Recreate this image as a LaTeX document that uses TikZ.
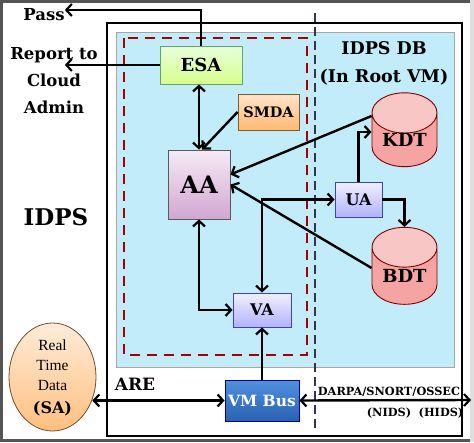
\documentclass[tikz,border=0pt]{standalone}
\usepackage{fontspec}
\setmainfont{DejaVu Serif}
\newfontfamily\libserif{Liberation Serif}
\usetikzlibrary{arrows.meta,shapes.geometric}
\definecolor{skyfill}{HTML}{C2ECF9}
\definecolor{framegray}{HTML}{555555}
\definecolor{bustop}{HTML}{5090DC}
\definecolor{busbot}{HTML}{2A62B2}
\definecolor{cylbody}{HTML}{F5A3A3}
\definecolor{cylend}{HTML}{F9C6C6}
\tikzset{
  tipA/.tip={Straight Barb[length=5.5pt,width=12pt,line width=2.2pt]},
  arr/.style={line width=2.4pt,-tipA},
  darr/.style={line width=2.4pt,tipA-tipA},
  boxbase/.style={draw,rectangle,inner sep=0pt,line width=0.9pt,font=\bfseries},
  esabox/.style={boxbase,draw=green!40!black!60,top color=green!10!white!95!yellow,bottom color=green!35!yellow!45!white},
  smdabox/.style={boxbase,draw=brown!70!black,top color=orange!20!white,bottom color=orange!55!white},
  aabox/.style={boxbase,draw=gray!70!black,top color=violet!8!white,bottom color=violet!35!white},
  uabox/.style={boxbase,draw=blue!50!gray,top color=blue!6!white,bottom color=blue!30!white},
  busbox/.style={boxbase,draw=blue!60!black,top color=bustop,bottom color=busbot,text=white},
  dbcyl/.style={cylinder,shape border rotate=90,aspect=0.9,draw=red!50!black,line width=0.9pt,inner sep=0pt,
     cylinder uses custom fill,cylinder body fill=cylbody,cylinder end fill=cylend,font=\bfseries\fontsize{18}{20}\selectfont},
  lbl/.style={inner sep=0pt,font=\bfseries},
}
\begin{document}
\begin{tikzpicture}[x=1pt,y=-1pt]
\useasboundingbox (0,0) rectangle (474,442);
% outer frame
\fill[gray!25] (470,0) rectangle (474,442);
\draw[framegray,line width=2.5pt] (470,1.5) -- (1.5,1.5) -- (1.5,440.5) -- (470,440.5);
% ARE box
\draw[black,line width=1.2pt] (107,23) rectangle (462,436);
% light blue region
\draw[gray!70,fill=skyfill,line width=0.6pt] (116,32) rectangle (454,367);
% red dashed
\draw[red!65!black,line width=1.5pt,dash pattern=on 10pt off 7pt] (124,38) rectangle (307,355);
% vertical dashed divider
\draw[black!75!blue!60!gray,line width=1.4pt,dash pattern=on 9pt off 5pt] (315,13) -- (315,428);

% nodes
\node[esabox,minimum width=82pt,minimum height=38pt,font=\bfseries\fontsize{18}{20}\selectfont] (ESA) at (201,65) {ESA};
\node[smdabox,minimum width=61pt,minimum height=36pt,font=\bfseries\fontsize{14.5}{16}\selectfont] (SMDA) at (268.5,112) {SMDA};
\node[aabox,minimum width=62pt,minimum height=69pt,font=\bfseries\fontsize{24}{26}\selectfont] (AA) at (199,184.5) {AA};
\node[uabox,minimum width=47pt,minimum height=35pt,font=\bfseries\fontsize{16}{18}\selectfont] (UA) at (358.5,199.5) {UA};
\node[uabox,minimum width=58pt,minimum height=34pt,font=\bfseries\fontsize{16}{18}\selectfont] (VA) at (262,310) {VA};
\node[busbox,minimum width=74pt,minimum height=41pt,font=\bfseries\fontsize{15.5}{18}\selectfont] (VMBus) at (262,400.5) {VM Bus};
\node[dbcyl,minimum width=65pt,minimum height=70pt] (KDT) at (404.5,140) {KDT};
\node[dbcyl,minimum width=65pt,minimum height=77pt] (BDT) at (404.5,276) {BDT};
\node[ellipse,draw=brown!60!black,line width=0.8pt,inner sep=0pt,minimum width=87pt,minimum height=108pt,
      top color=orange!15!white,bottom color=orange!50!white] (SA) at (52.5,377) {};
\node[align=center,inner sep=0pt,font=\libserif\fontsize{15.5}{20}\selectfont] (SAtext) at (52.5,365) {Real\\Time\\Data};
\node[lbl,font=\bfseries\fontsize{16}{18}\selectfont] (SAlbl) at (52.5,409) {(SA)};

% free labels
\node[lbl,font=\bfseries\fontsize{16.5}{19}\selectfont] (Pass) at (44,15) {Pass};
\node[lbl,align=center,font=\bfseries\fontsize{16.5}{27}\selectfont] (Report) at (54,81) {Report to\\Cloud\\Admin};
\node[lbl,font=\bfseries\fontsize{23}{26}\selectfont] (IDPS) at (56,217) {IDPS};
\node[lbl,font=\bfseries\fontsize{17.5}{20}\selectfont] (DBtitle) at (384,48) {IDPS DB};
\node[lbl,font=\bfseries\fontsize{17.5}{20}\selectfont] (DBsub) at (384,77) {(In Root VM)};
\node[lbl,font=\bfseries\fontsize{17}{19}\selectfont] (ARE) at (135,384) {ARE};
\node[lbl,font=\bfseries\fontsize{11.3}{13}\selectfont] (darpa) at (389,392) {DARPA/SNORT/OSSEC};
\node[lbl,font=\bfseries\fontsize{11.3}{13}\selectfont] (nids) at (389,413) {(NIDS)};
\node[lbl,font=\bfseries\fontsize{11.3}{13}\selectfont] (hids) at (441,413) {(HIDS)};
\coordinate (rend) at (471,400);

% connectors
\draw[arr] (ESA.north) |- ([yshift=5pt]Pass.east);
\draw[arr] (ESA.west) -- (ESA.west -| Pass.east);
\draw[darr] (AA.north) -- (AA.north |- ESA.south);
\draw[arr] (SMDA.west) -- ([xshift=3pt]AA.north);
\draw[arr] ([yshift=24pt]KDT.west) -- ([yshift=10pt]AA.east);
\draw[arr] ([yshift=8pt]BDT.west) -- (AA.east);
\draw[arr] (UA.north) |- ([yshift=8pt]KDT.west);
\draw[arr] (UA.east) -| (BDT.north);
\draw[darr] (VA.north) |- (UA.west);
\draw[darr] (AA.south) |- (VA.west);
\draw[arr] (VMBus.north) -- (VA.south);
\draw[darr] (VMBus.west -| SA.-30) -- (VMBus.west);
\draw[darr] (VMBus.east) -- (rend);
\end{tikzpicture}
\end{document}
